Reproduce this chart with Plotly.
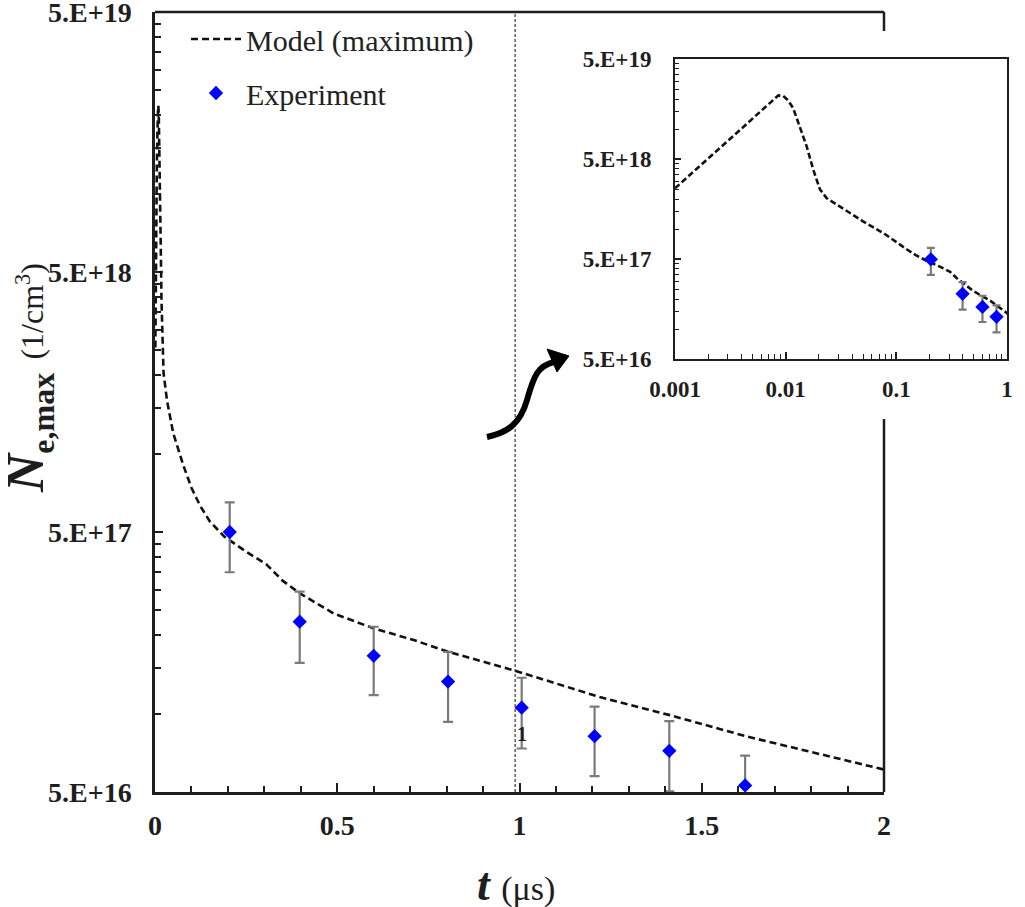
import numpy as np
import plotly.graph_objects as go

# ---------------- data ----------------
model_t = [0.001, 0.002, 0.003, 0.005, 0.007, 0.0086, 0.0095, 0.0105, 0.0117, 0.0135,
           0.0155, 0.0178, 0.0204, 0.0235, 0.033, 0.05, 0.078, 0.1, 0.124, 0.15, 0.19,
           0.25, 0.306, 0.35, 0.398, 0.49, 0.6, 0.71, 0.805, 0.99, 1.22, 1.41, 1.62, 2.0]
model_n = [2.56e18, 5.1e18, 7.6e18, 1.28e19, 1.8e19, 2.18e19, 2.15e19, 1.95e19, 1.62e19, 1.06e19,
           6.7e18, 3.9e18, 2.5e18, 2.04e18, 1.6e18, 1.2e18, 9.0e17, 7.4e17, 6.3e17, 5.5e17, 4.8e17,
           4.2e17, 3.75e17, 3.25e17, 2.9e17, 2.43e17, 2.13e17, 1.92e17, 1.73e17, 1.46e17,
           1.16e17, 9.9e16, 8.2e16, 6.1e16]

exp_t = [0.205, 0.397, 0.6, 0.804, 1.006, 1.206, 1.411, 1.619]
exp_n = [5.0e17, 2.26e17, 1.67e17, 1.33e17, 1.055e17, 8.2e16, 7.2e16, 5.3e16]
exp_err = [1.5e17, 0.69e17, 0.49e17, 0.4e17, 0.32e17, 0.245e17, 0.217e17, 0.16e17]

y_major = [5e16, 5e17, 5e18, 5e19]
y_labels = ["5.E+16", "5.E+17", "5.E+18", "5.E+19"]
x_main_ticks = [0, 0.5, 1, 1.5, 2]
x_main_labels = ["0", "0.5", "1", "1.5", "2"]
x_inset_ticks = [0.001, 0.01, 0.1, 1]
x_inset_labels = ["0.001", "0.01", "0.1", "1"]
marker_line_t = 0.988
point_label = "1"

# ---------------- geometry helpers (pixel -> paper) ----------------
L, R, T, B = 155, 1007, 12, 792
W, H = R - L, B - T


def px(x):
    return (x - L) / W


def py(y):
    return (B - y) / H


FONT = "Liberation Serif"
AX = "#1e1e1e"

y_minor = [m * k for m in y_major[:-1] for k in range(2, 10)]
x_inset_minor = [k * 10.0 ** e for e in (-3, -2, -1) for k in range(2, 10)]
yr = [np.log10(y_major[0]), np.log10(y_major[-1])]

fig = go.Figure()

# main traces
fig.add_trace(go.Scatter(
    x=model_t, y=model_n, mode="lines", name="Model (maximum)",
    line=dict(color="#111111", width=2.6, dash="7px,4px"),
    legendgroup="a", xaxis="x", yaxis="y"))
fig.add_trace(go.Scatter(
    x=exp_t, y=exp_n, mode="markers", name="Experiment",
    marker=dict(symbol="diamond", color="#0000FF", size=11),
    error_y=dict(type="data", array=exp_err, symmetric=True, color="#7a7a7a",
                 thickness=2.2, width=5),
    legendgroup="b", xaxis="x", yaxis="y"))

# inset traces
n_in = sum(1 for t in exp_t if t <= 1)
fig.add_trace(go.Scatter(
    x=model_t, y=model_n, mode="lines", showlegend=False,
    line=dict(color="#111111", width=2.6, dash="6px,3px"),
    xaxis="x2", yaxis="y2"))
fig.add_trace(go.Scatter(
    x=exp_t[:n_in], y=exp_n[:n_in], mode="markers", showlegend=False,
    marker=dict(symbol="diamond", color="#0000FF", size=11),
    error_y=dict(type="data", array=exp_err[:n_in], symmetric=True, color="#7a7a7a",
                 thickness=2.2, width=4),
    xaxis="x2", yaxis="y2"))

main_x_dom = [0, px(884)]

fig.update_layout(
    width=1025, height=907,
    margin=dict(l=L, r=1025 - R, t=T, b=907 - B, autoexpand=False),
    paper_bgcolor="white", plot_bgcolor="white",
    font=dict(family=FONT, color=AX),
    showlegend=True,
    legend=dict(x=px(186), y=py(13), xanchor="left", yanchor="top",
                font=dict(family=FONT, size=30, color="#222222"),
                bgcolor="rgba(0,0,0,0)", itemwidth=50, tracegroupgap=12,
                traceorder="grouped"),
    xaxis=dict(domain=main_x_dom, range=[0, 2], anchor="y", automargin=False,
               tickmode="array", tickvals=x_main_ticks, ticktext=x_main_labels,
               showline=True, linewidth=2.5, linecolor=AX, ticks="inside",
               ticklen=9, tickwidth=2, tickcolor=AX, showgrid=False, zeroline=False,
               tickfont=dict(family=FONT, size=28, color=AX, weight="bold"),
               ticklabelstandoff=7, ticklabeloverflow="allow",
               minor=dict(dtick=0.1, tick0=0, ticks="inside", ticklen=6,
                          tickwidth=1.5, tickcolor=AX, showgrid=False)),
    yaxis=dict(domain=[0, 1], type="log", range=yr, anchor="x", automargin=False,
               tickmode="array", tickvals=y_major, ticktext=y_labels,
               showline=True, linewidth=2.5, linecolor=AX, ticks="inside",
               ticklen=8, tickwidth=2, tickcolor=AX, showgrid=False, zeroline=False,
               tickfont=dict(family=FONT, size=28, color=AX, weight="bold"),
               ticklabelstandoff=15, ticklabeloverflow="allow",
               minor=dict(tickmode="array", tickvals=y_minor, ticks="inside",
                          ticklen=6, tickwidth=1.5, tickcolor=AX, showgrid=False)),
    xaxis2=dict(domain=[px(675), px(1007)], type="log", range=[-3, 0], anchor="y2",
                automargin=False,
                tickmode="array", tickvals=x_inset_ticks, ticktext=x_inset_labels,
                showline=True, mirror=True, linewidth=2, linecolor=AX, ticks="inside",
                ticklen=7, tickwidth=1.8, tickcolor=AX, showgrid=False, zeroline=False,
                tickfont=dict(family=FONT, size=23, color=AX, weight="bold"),
                ticklabelstandoff=8, ticklabeloverflow="allow",
                minor=dict(tickmode="array", tickvals=x_inset_minor, ticks="inside",
                           ticklen=5, tickwidth=1.3, tickcolor=AX, showgrid=False)),
    yaxis2=dict(domain=[py(359.3), py(59.3)], type="log", range=yr, anchor="x2",
                automargin=False,
                tickmode="array", tickvals=y_major, ticktext=y_labels,
                showline=True, mirror=True, linewidth=2, linecolor=AX, ticks="inside",
                ticklen=6, tickwidth=1.8, tickcolor=AX, showgrid=False, zeroline=False,
                tickfont=dict(family=FONT, size=23, color=AX, weight="bold"),
                ticklabelstandoff=17, ticklabeloverflow="allow",
                minor=dict(tickmode="array", tickvals=y_minor, ticks="inside",
                           ticklen=4, tickwidth=1.2, tickcolor=AX, showgrid=False)),
)

shapes = []
# main frame: top and the visible pieces of the right side
fx = main_x_dom[1]
shapes.append(dict(type="line", xref="paper", yref="paper", x0=0, x1=fx, y0=1, y1=1,
                   line=dict(color=AX, width=2.5), layer="above"))
shapes.append(dict(type="line", xref="paper", yref="paper", x0=fx, x1=fx, y0=1, y1=py(31),
                   line=dict(color=AX, width=2.5), layer="above"))
shapes.append(dict(type="line", xref="paper", yref="paper", x0=fx, x1=fx, y0=py(419), y1=0,
                   line=dict(color=AX, width=2.5), layer="above"))
# vertical dotted line at t ~ 1
shapes.append(dict(type="line", xref="x", yref="y domain", x0=marker_line_t, x1=marker_line_t,
                   y0=0, y1=1, line=dict(color="#333333", width=1.2, dash="3px,2px"),
                   layer="below"))


def P(x, y):
    return f"{px(x):.5f},{py(y):.5f}"


arrow_path = (f"M{P(487, 437)} C{P(506, 433)} {P(520, 425)} {P(527, 400)} "
              f"S{P(538, 366)} {P(554, 362)}")
shapes.append(dict(type="path", xref="paper", yref="paper", path=arrow_path,
                   line=dict(color="black", width=6), fillcolor="rgba(0,0,0,0)",
                   layer="above"))
head_path = f"M{P(569, 356)} L{P(547, 349)} L{P(557, 372)} Z"
shapes.append(dict(type="path", xref="paper", yref="paper", path=head_path,
                   line=dict(color="black", width=1), fillcolor="black", layer="above"))
fig.update_layout(shapes=shapes)

ann = []
ann.append(dict(xref="paper", yref="paper", x=px(516), y=py(884), xanchor="center",
                yanchor="middle", showarrow=False,
                text="<b><i>t</i></b> <span style='font-size:34px'>(μs)</span>",
                font=dict(family=FONT, size=46, color=AX)))
ann.append(dict(xref="paper", yref="paper", x=px(28), y=py(378), xanchor="center",
                yanchor="middle", showarrow=False, textangle=-90,
                text=("<b><i>N</i></b><sub><b><span style='font-size:32px'>e,max</span></b></sub>"
                      " <span style='font-size:32px'>(1/cm<sup>3</sup>)</span>"),
                font=dict(family=FONT, size=53, color=AX)))
ann.append(dict(xref="x", yref="y", x=exp_t[4], y=np.log10(exp_n[4]), yshift=-26,
                showarrow=False, text=f"<b>{point_label}</b>",
                font=dict(family=FONT, size=20, color=AX)))
fig.update_layout(annotations=ann)

fig.write_html("out.html")
